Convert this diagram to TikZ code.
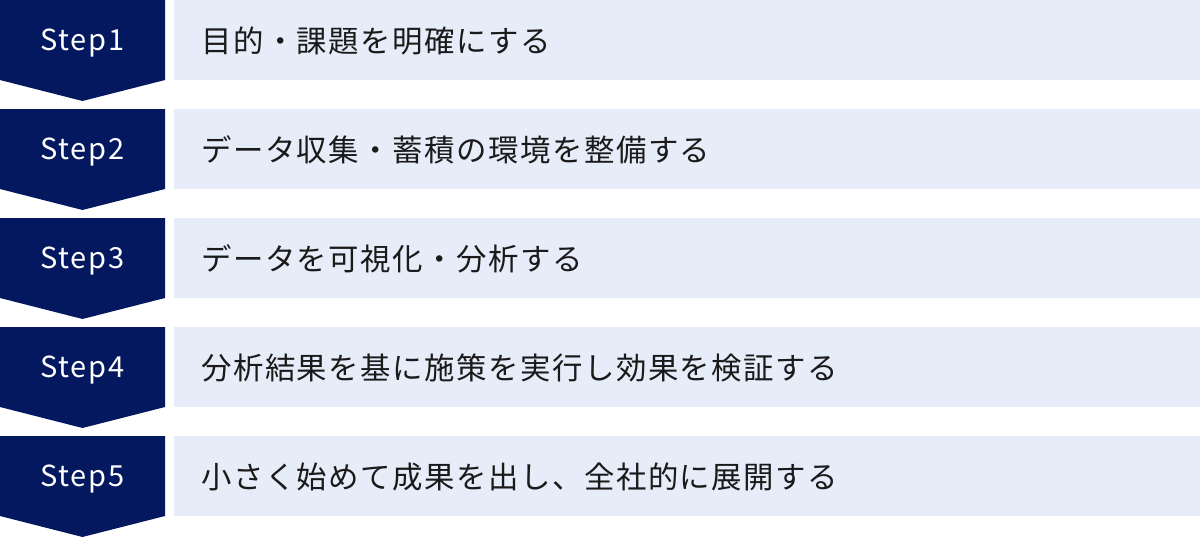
\documentclass[tikz,border=0pt]{standalone}
\usepackage{fontspec}
\setmainfont{Noto Sans CJK JP}
\newfontfamily\jpfont[LetterSpace=5]{Noto Sans CJK JP}
\newfontfamily\stepfont[LetterSpace=6]{Noto Sans CJK JP}
\definecolor{navy}{HTML}{03185F}
\definecolor{lightbox}{HTML}{E6ECF8}
\definecolor{txt}{HTML}{1A1A1A}
\tikzset{
  steplabel/.style={text=white, font=\stepfont\fontsize{29}{34}\selectfont, anchor=base, inner sep=0pt},
  desclabel/.style={text=txt, font=\jpfont\fontsize{30.4}{36}\selectfont, anchor=base west, inner sep=0pt},
}
\begin{document}
\begin{tikzpicture}[x=1pt,y=-1pt]
\useasboundingbox (0,0) rectangle (1200,538);
\foreach \i/\t in {1/{目的・課題を明確にする},2/{データ収集・蓄積の環境を整備する},3/{データを可視化・分析する},4/{分析結果を基に施策を実行し効果を検証する},5/{小さく始めて成果を出し、全社的に展開する}}{
  \pgfmathsetmacro{\top}{(\i-1)*109}
  \fill[navy] (0,\top) -- (165,\top) -- (165,\top+80) -- (82.5,\top+101) -- (0,\top+80) -- cycle;
  \fill[lightbox] (174,\top) rectangle (1200,\top+80);
  \node[steplabel] (step\i) at (82.5,\top+50) {Step\i};
  \node[desclabel] (desc\i) at (201,\top+52) {\t};
}
\end{tikzpicture}
\end{document}
